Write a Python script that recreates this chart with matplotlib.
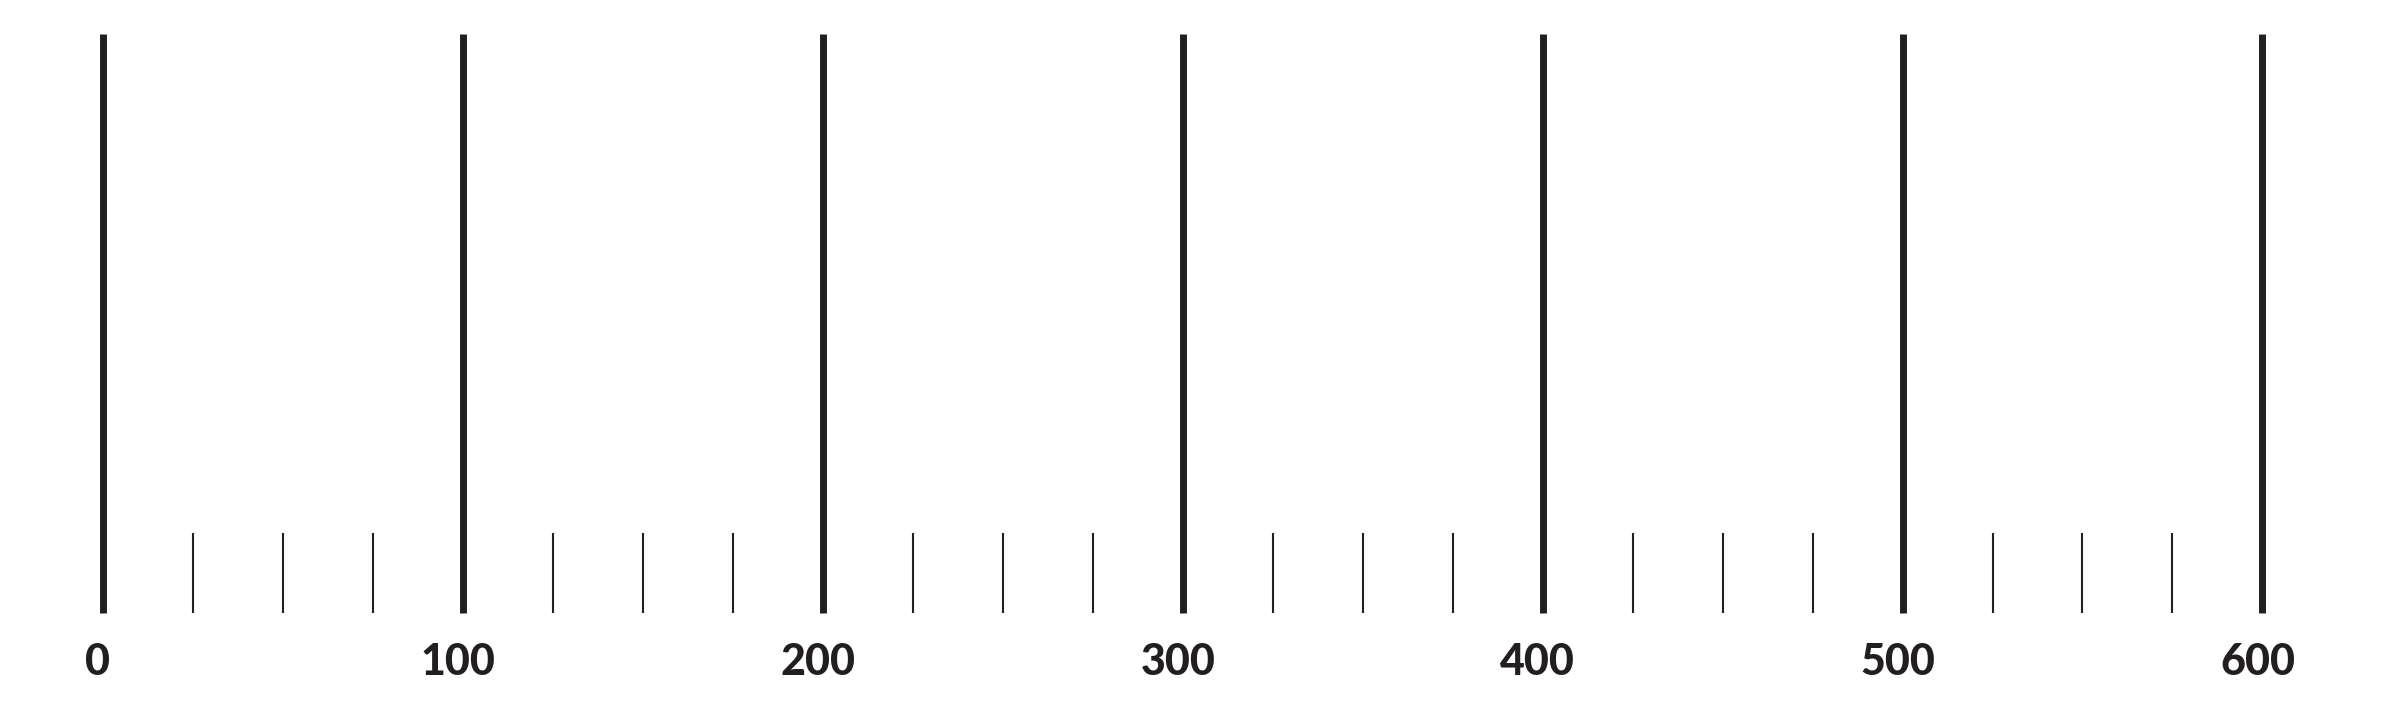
import numpy as np
import matplotlib.pyplot as plt

# scale values
major_ticks = [0, 100, 200, 300, 400, 500, 600]
major_labels = ['0', '100', '200', '300', '400', '500', '600']
minor_ticks = [25, 50, 75, 125, 150, 175, 225, 250, 275, 325, 350, 375,
               425, 450, 475, 525, 550, 575]

ink = '#231f20'

fig = plt.figure(figsize=(24, 7.2), dpi=100)
ax = fig.add_axes([0, 0, 1, 1])
ax.set_xlim(-28.5, 638.2)
ax.set_ylim(0, 1)
ax.axis('off')

# long lines for hundreds
ax.vlines(major_ticks, 0.149, 0.953, colors=ink, linewidth=5.0)
# short lines in between
ax.vlines(minor_ticks, 0.149, 0.26, colors=ink, linewidth=1.5)

# labels sit a touch left of their lines in the original
for x, lab in zip(major_ticks, major_labels):
    ax.text(x - 1.3, 0.081, lab, ha='center', va='center', fontsize=31,
            fontweight='black', family='Lato', color=ink)

plt.savefig('out.png', dpi=100, facecolor='white')
